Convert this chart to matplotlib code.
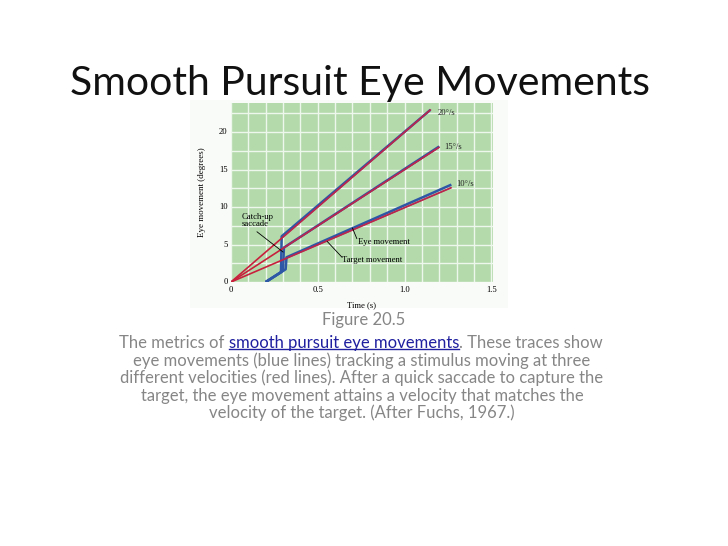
import matplotlib
matplotlib.use('Agg')
import matplotlib.pyplot as plt
from matplotlib.patches import Rectangle

# slide text
title = 'Smooth Pursuit Eye Movements'
figure_label = 'Figure 20.5'
caption_lead = 'The metrics of '
caption_link = 'smooth pursuit eye movements'
caption_tail = '. These traces show'
caption_lines = [
    'eye movements (blue lines) tracking a stimulus moving at three',
    'different velocities (red lines). After a quick saccade to capture the',
    'target, the eye movement attains a velocity that matches the',
    'velocity of the target. (After Fuchs, 1967.)',
]

# chart data
velocity_labels = ['10°/s', '15°/s', '20°/s']
target_t = [[0, 1.27], [0, 1.20], [0, 1.15]]
target_y = [[0, 12.6], [0, 18.0], [0, 23.0]]
eye_t = [[0.20, 0.315, 0.32, 1.27],
         [0.20, 0.30, 0.305, 1.20],
         [0.20, 0.288, 0.292, 1.15]]
eye_y = [[0, 1.7, 3.3, 13.0],
         [0, 1.5, 4.6, 18.1],
         [0, 1.3, 6.1, 23.0]]
label_pos = [(1.30, 13.1), (1.23, 18.0), (1.19, 22.6)]
x_ticks = [0, 0.5, 1.0, 1.5]
x_ticklabels = ['0', '0.5', '1.0', '1.5']
y_ticks = [0, 5, 10, 15, 20]

W, H = 728, 546
fig = plt.figure(figsize=(W / 100, H / 100), dpi=100)
fig.patch.set_facecolor('white')

sans = ['Lato', 'DejaVu Sans']
serif = ['Liberation Serif', 'DejaVu Serif']

# faint backdrop of the pasted figure
fig.patches.append(Rectangle((190 / W, 1 - 308 / H), 318 / W, 208 / H,
                             transform=fig.transFigure, facecolor='#f9fbf8',
                             edgecolor='none', zorder=-5))

ax = fig.add_axes([231 / W, 1 - 282 / H, 262 / W, 179 / H])
ax.set_zorder(2)
ax.set_facecolor('#b4daac')
ax.set_xlim(0, 1.51)
ax.set_ylim(0, 23.9)
for s in ax.spines.values():
    s.set_visible(False)
ax.set_xticks([i / 10 for i in range(16)])
ax.set_yticks([i * 2.5 for i in range(10)])
ax.grid(True, color='#eef7ec', linewidth=1.0)
ax.tick_params(length=0, labelbottom=False, labelleft=False)
ax.set_axisbelow(True)

for tt, ty in zip(target_t, target_y):
    ax.plot(tt, ty, color='#c8203c', linewidth=1.2, solid_capstyle='butt', zorder=3)
for et, ey in zip(eye_t, eye_y):
    ax.plot(et, ey, color='#2e58a6', linewidth=1.8, solid_capstyle='butt', zorder=2)
for tt, ty in zip(target_t, target_y):
    ax.plot([0.3, tt[1]], [ty[1] * 0.3 / tt[1], ty[1]], color='#b02a5a',
            linewidth=0.9, alpha=0.8, zorder=4)

for lbl, (lx, ly) in zip(velocity_labels, label_pos):
    ax.text(lx, ly, lbl, fontsize=6.2, family=serif, color='#222222', va='center')

for xv, xl in zip(x_ticks, x_ticklabels):
    ax.text(xv, -0.6, xl, fontsize=6.2, family=serif, ha='center', va='top',
            clip_on=False)
for yv in y_ticks:
    ax.text(-0.02, yv, str(yv), fontsize=6.2, family=serif, ha='right',
            va='center', clip_on=False)
ax.text(0.75, -2.6, 'Time (s)', fontsize=6.2, family=serif, ha='center',
        va='top', clip_on=False)
ax.text(-0.17, 12, 'Eye movement (degrees)', fontsize=6.5, family=serif,
        rotation=90, ha='center', va='center', clip_on=False)

ax.text(0.06, 8.2, 'Catch-up\nsaccade', fontsize=6.2, family=serif,
        ha='left', va='center', linespacing=0.95)
ax.plot([0.15, 0.30], [6.7, 4.0], color='black', linewidth=0.6, zorder=5)
ax.text(0.73, 5.4, 'Eye movement', fontsize=6.2, family=serif, va='center')
ax.plot([0.70, 0.725], [7.2, 5.8], color='black', linewidth=0.6, zorder=5)
ax.text(0.64, 2.9, 'Target movement', fontsize=6.2, family=serif, va='center')
ax.plot([0.555, 0.64], [5.4, 3.3], color='black', linewidth=0.6, zorder=5)

# title and caption
fig.text(0.5 - 4 / W, 1 - 83 / H, title, fontsize=29.5, family=sans,
         color='#111111', ha='center', va='center')
grey = '#868686'
cap_size = 12
fig.text(0.5, 1 - 320 / H, figure_label, fontsize=cap_size, family=sans,
         color=grey, ha='center', va='center')

renderer = fig.canvas.get_renderer()
y1 = 1 - 343 / H
parts = [(caption_lead, grey), (caption_link, '#1f1fa0'), (caption_tail, grey)]
texts = [fig.text(0, y1, p, fontsize=cap_size, family=sans, color=c, va='center')
         for p, c in parts]
widths = [t.get_window_extent(renderer).width for t in texts]
x = (W - sum(widths)) / 2 - 3
for t, w in zip(texts, widths):
    t.set_x(x / W)
    x += w
link_box = texts[1].get_window_extent(renderer)
fig.add_artist(plt.Line2D([link_box.x0 / W, link_box.x1 / W],
                          [(link_box.y0 + 2) / H] * 2,
                          color='#1f1fa0', linewidth=1.0))

for i, line in enumerate(caption_lines):
    fig.text(0.5 - 2 / W, 1 - (360.5 + 17.5 * i) / H, line, fontsize=cap_size,
             family=sans, color=grey, ha='center', va='center')

fig.savefig('out.png', dpi=100)
